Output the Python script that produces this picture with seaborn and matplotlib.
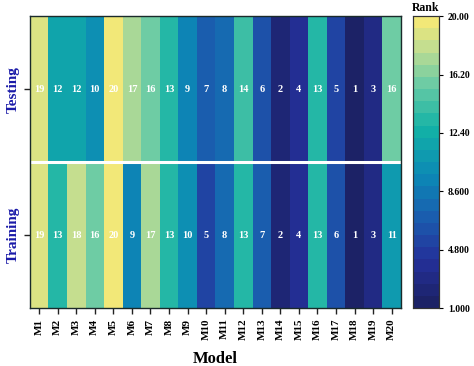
import numpy as np
import pandas as pd
import matplotlib
matplotlib.use("Agg")
import matplotlib.pyplot as plt
from matplotlib.colors import LinearSegmentedColormap
import seaborn as sns

models = [f"M{i}" for i in range(1, 21)]
rows = ["Testing", "Training"]
testing = [19, 12, 12, 10, 20, 17, 16, 13, 9, 7, 8, 14, 6, 2, 4, 13, 5, 1, 3, 16]
training = [19, 13, 18, 16, 20, 9, 17, 13, 10, 5, 8, 13, 7, 2, 4, 13, 6, 1, 3, 11]
cbar_ticks = [1.0, 4.8, 8.6, 12.4, 16.2, 20.0]
cbar_ticklabels = ["1.000", "4.800", "8.600", "12.40", "16.20", "20.00"]

df = pd.DataFrame([testing, training], index=rows, columns=models)

cmap = LinearSegmentedColormap.from_list(
    "rank",
    [(0.0, "#1c2266"), (0.15, "#24309a"), (0.30, "#1a5cae"),
     (0.45, "#0c88b6"), (0.62, "#12b2a6"), (0.78, "#6ccca4"),
     (0.90, "#bedc92"), (1.0, "#f2e878")],
    N=24,
)

plt.rcParams["font.family"] = ["Liberation Serif", "DejaVu Serif"]
fig = plt.figure(figsize=(4.74, 3.66), dpi=100)
ax = fig.add_axes([0.063, 0.158, 0.783, 0.798])
cax = fig.add_axes([0.871, 0.158, 0.055, 0.798])

sns.heatmap(df, ax=ax, cbar_ax=cax, cmap=cmap, vmin=1, vmax=20,
            annot=True, fmt="d",
            annot_kws={"color": "white", "fontsize": 7.5, "fontweight": "bold"})

ax.axhline(1, color="white", lw=2.2)
for s in ax.spines.values():
    s.set_visible(True)
    s.set_color("#1a2a2a")
    s.set_linewidth(1.0)

ax.set_yticklabels(rows, rotation=90, va="center", fontsize=11,
                   fontweight="bold", color="#1a1aa8")
ax.set_xticklabels(models, rotation=90, fontsize=8, fontweight="bold")
ax.tick_params(axis="both", length=4, width=1, color="#222222")
ax.set_xlabel("Model", fontsize=12, fontweight="bold", labelpad=8)
ax.set_ylabel("")

cax.set_yticks(cbar_ticks)
cax.set_yticklabels(cbar_ticklabels, fontsize=7, fontweight="bold")
cax.tick_params(length=3, width=0.8)
for s in cax.spines.values():
    s.set_visible(True)
    s.set_color("#333333")
    s.set_linewidth(0.8)
cax.set_title("Rank", fontsize=8.5, fontweight="bold", pad=4)

fig.savefig("out.png", dpi=100)
